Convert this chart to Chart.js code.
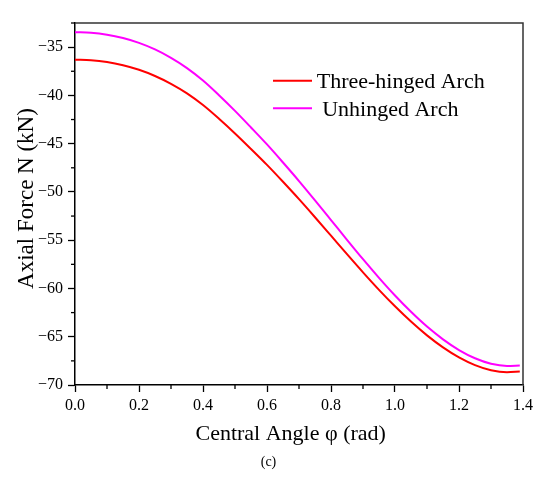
<!DOCTYPE html>
<html>
<head>
<meta charset="utf-8">
<script src="https://cdn.jsdelivr.net/npm/chart.js@4/dist/chart.umd.min.js"></script>
<style>
  html, body { margin: 0; padding: 0; background: #ffffff; }
  #wrap { width: 550px; height: 477px; }
</style>
</head>
<body>
<div id="wrap"><canvas id="c" width="550" height="477"></canvas></div>
<script>
// ---- data ----
const phi = [0, 0.05, 0.1, 0.15, 0.2, 0.25, 0.3, 0.35, 0.4, 0.45, 0.5, 0.55, 0.6, 0.65, 0.7,
             0.75, 0.8, 0.85, 0.9, 0.95, 1.0, 1.05, 1.1, 1.15, 1.2, 1.25, 1.3, 1.35, 1.39];
const threeHinged = [-36.3, -36.36, -36.55, -36.88, -37.35, -37.99, -38.8, -39.79, -41.0, -42.42,
                     -43.94, -45.55, -47.2, -48.95, -50.75, -52.62, -54.53, -56.45, -58.33, -60.14,
                     -61.85, -63.43, -64.86, -66.1, -67.14, -67.94, -68.47, -68.68, -68.6];
const unhinged = [-33.45, -33.51, -33.71, -34.06, -34.56, -35.24, -36.11, -37.17, -38.46, -39.98,
                  -41.6, -43.32, -45.08, -46.95, -48.87, -50.87, -52.91, -54.96, -56.97, -58.9,
                  -60.73, -62.42, -63.95, -65.27, -66.38, -67.23, -67.8, -68.02, -67.98];
const seriesNames = ['Three-hinged Arch', ' Unhinged Arch'];
const seriesColors = ['#ff0000', '#ff00ff'];
const xTitle = 'Central Angle \u03c6 (rad)';
const yTitle = 'Axial Force N (kN)';
const caption = '(c)';
const xMinorTicks = [0.1, 0.3, 0.5, 0.7, 0.9, 1.1, 1.3];
const yMinorTicks = [-67.5, -62.5, -57.5, -52.5, -47.5, -42.5, -37.5, -32.5];

const SERIF = '"Liberation Serif", "Times New Roman", serif';

const decor = {
  id: 'decor',
  afterDraw(chart) {
    const { ctx, chartArea: a, scales: { x, y } } = chart;
    ctx.save();
    // top & right frame
    ctx.strokeStyle = '#333';
    ctx.lineWidth = 1.5;
    ctx.beginPath();
    ctx.moveTo(a.left, a.top);
    ctx.lineTo(a.right, a.top);
    ctx.lineTo(a.right, a.bottom);
    ctx.stroke();
    // minor ticks
    ctx.strokeStyle = '#000';
    ctx.lineWidth = 1.3;
    xMinorTicks.forEach(v => {
      const px = x.getPixelForValue(v);
      ctx.beginPath(); ctx.moveTo(px, a.bottom); ctx.lineTo(px, a.bottom + 4); ctx.stroke();
    });
    yMinorTicks.forEach(v => {
      if (v > y.max) return;
      const py = y.getPixelForValue(v);
      ctx.beginPath(); ctx.moveTo(a.left, py); ctx.lineTo(a.left - 4, py); ctx.stroke();
    });
    // legend
    const legY = [80.7, 108.3];
    const textX = [316.7, 316.7];
    ctx.font = '22px ' + SERIF;
    ctx.textAlign = 'left';
    ctx.textBaseline = 'alphabetic';
    ctx.fillStyle = '#000';
    seriesNames.forEach((n, i) => {
      ctx.strokeStyle = seriesColors[i];
      ctx.lineWidth = 2;
      ctx.beginPath(); ctx.moveTo(273, legY[i]); ctx.lineTo(312, legY[i]); ctx.stroke();
      ctx.fillText(n, textX[i], legY[i] + 7.6);
    });
    // axis titles
    ctx.font = '22px ' + SERIF;
    ctx.textAlign = 'center';
    ctx.fillText(xTitle, 290.7, 440);
    ctx.save();
    ctx.translate(33, 198.5);
    ctx.rotate(-Math.PI / 2);
    ctx.font = '23px ' + SERIF;
    ctx.fillText(yTitle, 0, 0);
    ctx.restore();
    // caption
    ctx.font = '14px ' + SERIF;
    ctx.fillText(caption, 268.5, 466);
    ctx.restore();
  }
};

const mk = (vals) => phi.map((p, i) => ({ x: p, y: vals[i] }));

new Chart(document.getElementById('c'), {
  type: 'line',
  data: {
    datasets: [
      { label: seriesNames[0], data: mk(threeHinged), borderColor: seriesColors[0], borderWidth: 2,
        pointRadius: 0, cubicInterpolationMode: 'monotone', fill: false },
      { label: seriesNames[1], data: mk(unhinged), borderColor: seriesColors[1], borderWidth: 2,
        pointRadius: 0, cubicInterpolationMode: 'monotone', fill: false }
    ]
  },
  options: {
    responsive: false,
    animation: false,
    layout: { padding: { top: 23, right: 27, left: 0, bottom: 0 } },
    plugins: { legend: { display: false }, tooltip: { enabled: false }, title: { display: false } },
    scales: {
      x: {
        type: 'linear', min: 0, max: 1.4,
        afterFit: (s) => { s.height = 92; },
        ticks: { stepSize: 0.2, color: '#000', padding: 4, maxRotation: 0,
                 font: { family: SERIF, size: 16 },
                 callback: (v) => Number(v).toFixed(1) },
        grid: { drawOnChartArea: false, drawTicks: true, tickLength: 7, tickColor: '#000', tickWidth: 1.3 },
        border: { display: true, color: '#000', width: 1.5 }
      },
      y: {
        type: 'linear', min: -70, max: -32.5,
        afterFit: (s) => { s.width = 75; },
        ticks: { stepSize: 5, includeBounds: false, color: '#000', padding: 5,
                 font: { family: SERIF, size: 16 },
                 callback: (v) => (v < 0 ? '\u2212' + Math.abs(v) : String(v)) },
        grid: { drawOnChartArea: false, drawTicks: true, tickLength: 7, tickColor: '#000', tickWidth: 1.3 },
        border: { display: true, color: '#000', width: 1.5 }
      }
    }
  },
  plugins: [decor]
});
</script>
</body>
</html>
